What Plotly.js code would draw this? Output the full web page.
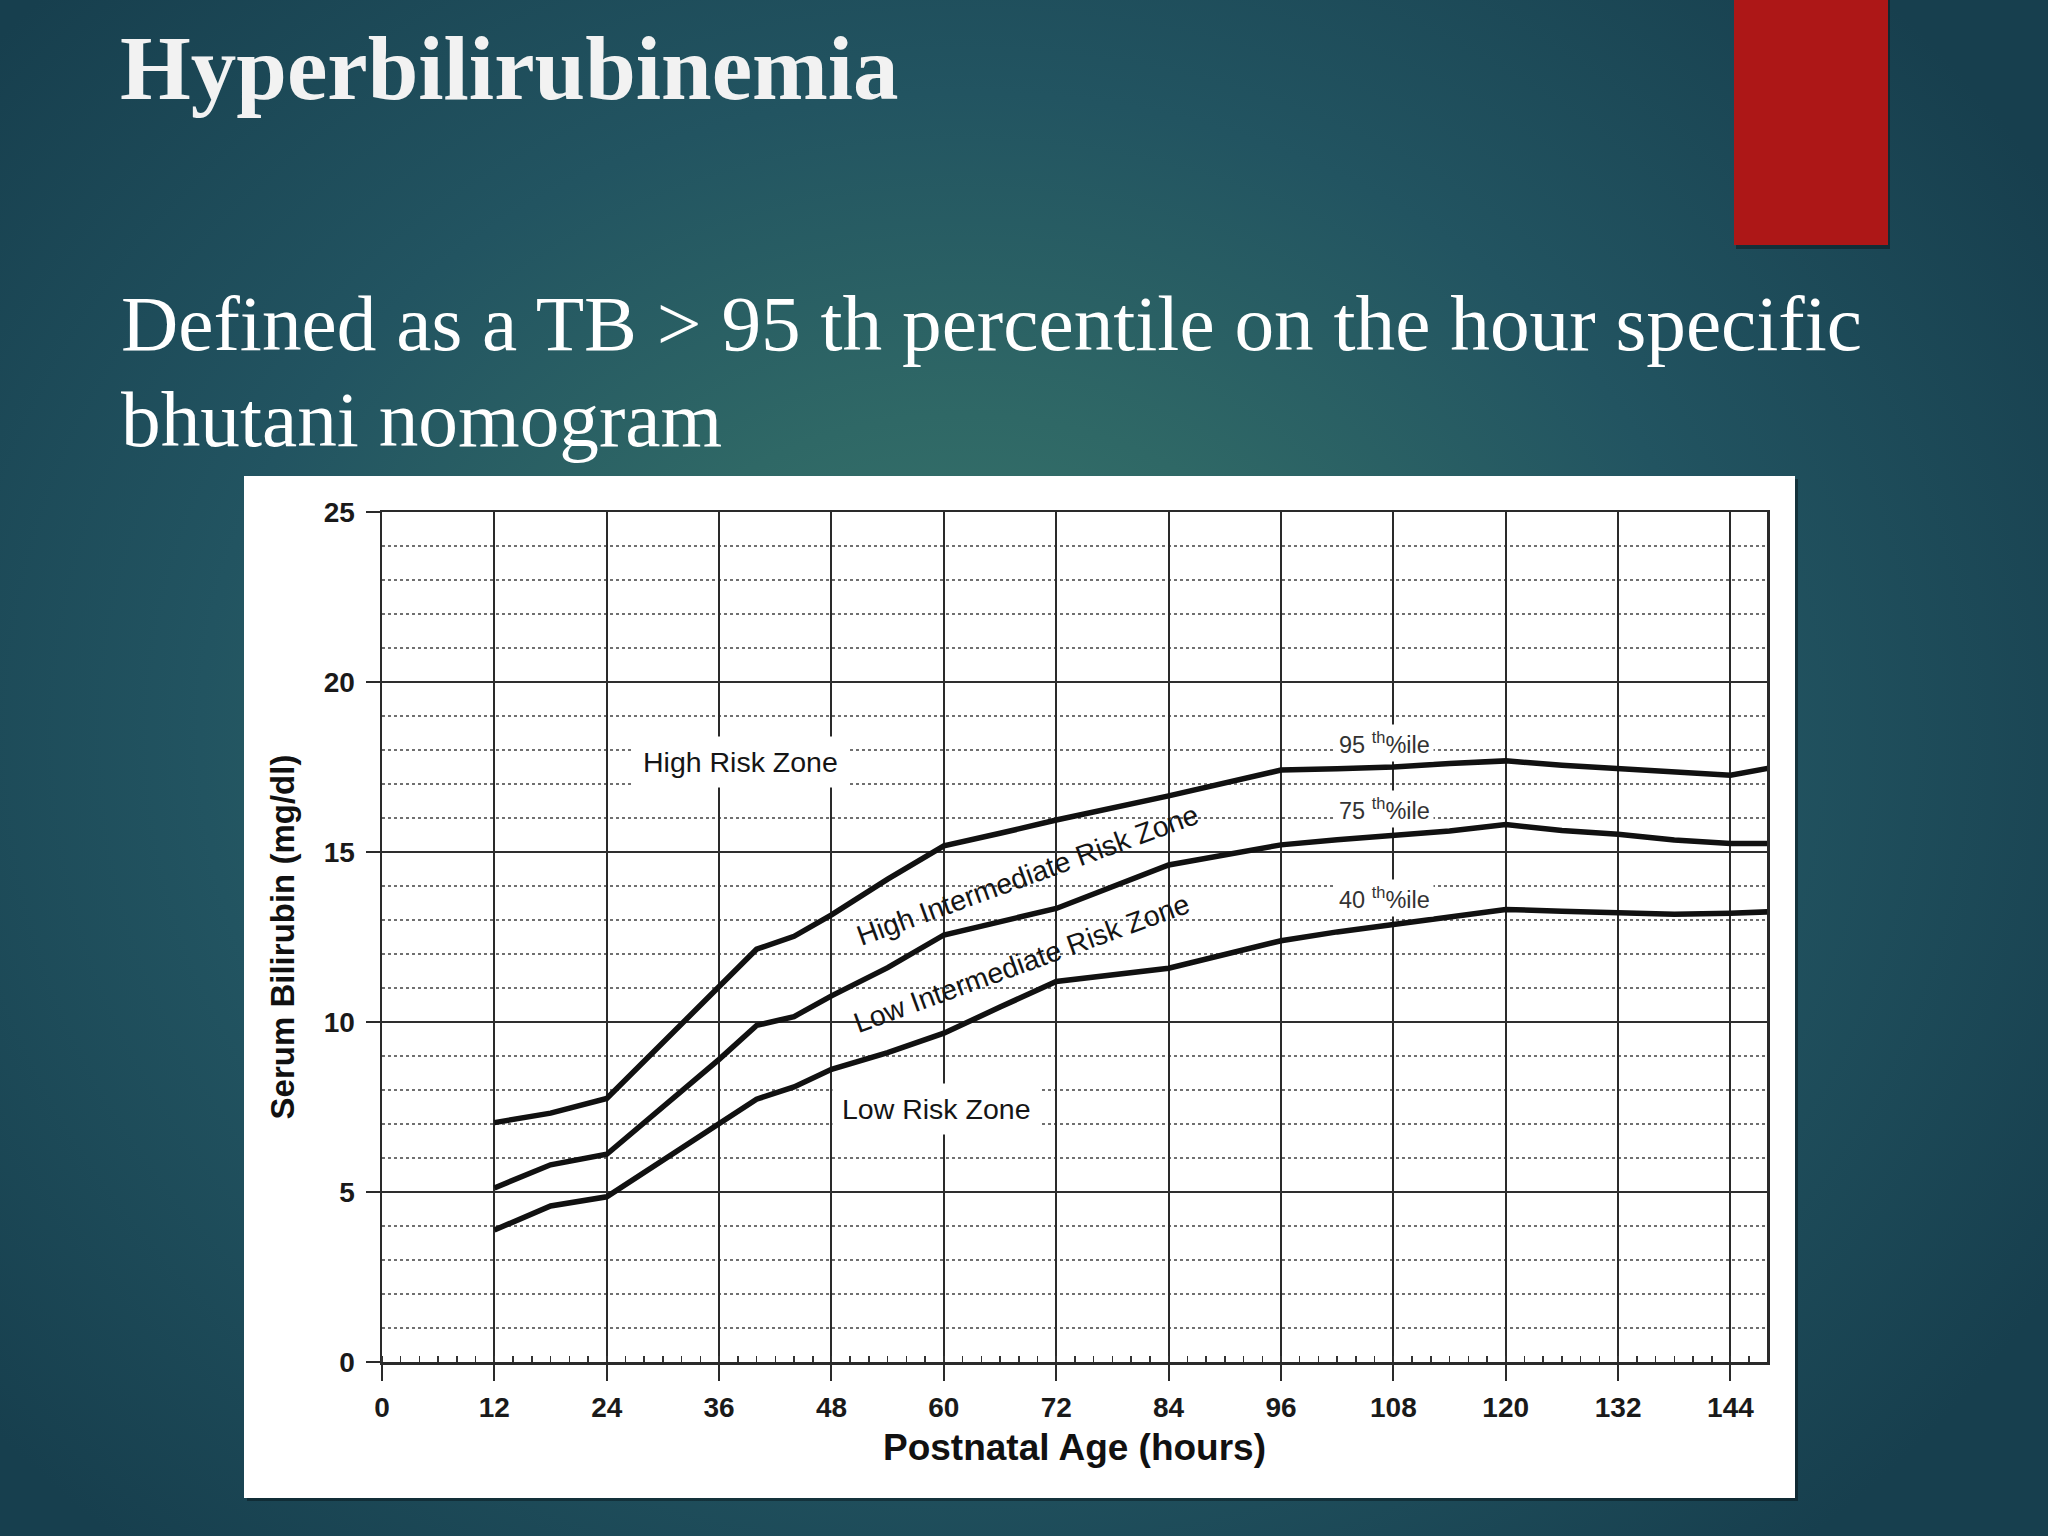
<!DOCTYPE html>
<html>
<head>
<meta charset="utf-8">
<script src="https://cdn.plot.ly/plotly-3.0.1.min.js"></script>
<style>
  html, body { margin: 0; padding: 0; width: 2048px; height: 1536px; overflow: hidden; }
  body {
    background: radial-gradient(ellipse 62% 70% at 47% 48%, #3b786d 0%, #2f6866 30%, #225461 60%, #173f4e 100%);
  }
  #chart { width: 2048px; height: 1536px; }
</style>
</head>
<body>
<div id="chart"></div>
<script>
// ---- data (Bhutani nomogram) ----
const hours = [12, 18, 24, 36, 40, 44, 48, 54, 60, 66, 72, 84, 96, 102, 108, 114, 120, 126, 132, 138, 144, 148];
const p95 = [7.04, 7.32, 7.75, 11.0, 12.14, 12.52, 13.15, 14.2, 15.18, 15.55, 15.94, 16.65, 17.41, 17.45, 17.5, 17.6, 17.68, 17.55, 17.46, 17.35, 17.26, 17.46];
const p75 = [5.12, 5.8, 6.11, 8.9, 9.9, 10.16, 10.77, 11.6, 12.56, 12.95, 13.34, 14.62, 15.21, 15.36, 15.5, 15.62, 15.81, 15.63, 15.52, 15.35, 15.25, 15.25];
const p40 = [3.88, 4.59, 4.86, 7.0, 7.73, 8.09, 8.61, 9.1, 9.67, 10.44, 11.19, 11.58, 12.39, 12.65, 12.88, 13.08, 13.31, 13.26, 13.23, 13.17, 13.2, 13.24];
const seriesNames = ["95th percentile", "75th percentile", "40th percentile"];
const xTicks = [0, 12, 24, 36, 48, 60, 72, 84, 96, 108, 120, 132, 144];
const yTicks = [0, 5, 10, 15, 20, 25];

const slideTitle = "Hyperbilirubinemia";
const subtitleLines = ["Defined as a TB > 95 th percentile on the hour specific", "bhutani nomogram"];
const xTitle = "Postnatal Age (hours)";
const yTitle = "Serum Bilirubin (mg/dl)";

// zone and percentile labels: [text, x (hours), y (mg/dl)]
const zoneLabels = [
  ["High Risk Zone", 38.3, 17.64],
  ["Low Risk Zone", 59.25, 7.44]
];
const slantLabels = [
  ["High Intermediate Risk Zone", 68.9, 14.32],
  ["Low Intermediate Risk Zone", 68.3, 11.74]
];
const pctLabels = [
  ["95 <sup>th</sup>%ile", 101.8, 18.22],
  ["75 <sup>th</sup>%ile", 101.8, 16.27],
  ["40 <sup>th</sup>%ile", 101.8, 13.66]
];

// ---- layout geometry (pixels on the 2048x1536 page) ----
const M = {l: 382, r: 281, t: 512, b: 174};
const PW = 2048 - M.l - M.r, PH = 1536 - M.t - M.b;
const px = v => (v - M.l) / PW;          // page x -> paper x
const py = v => (1536 - M.b - v) / PH;   // page y -> paper y

const SANS = "Liberation Sans, Arial, sans-serif";
const SERIF = "Liberation Serif, Times New Roman, serif";

const traces = [p95, p75, p40].map((vals, i) => ({
  type: "scatter", mode: "lines", name: seriesNames[i],
  x: hours, y: vals,
  line: {color: "#111111", width: 5.5},
  hoverinfo: "skip", showlegend: false
}));

const annotations = [];
subtitleLines.forEach((t, i) => {
  annotations.push({
    xref: "paper", yref: "paper", x: px(120), y: py(i === 0 ? 322.7 : 418.7),
    xanchor: "left", yanchor: "middle", showarrow: false, borderpad: 0,
    text: t, font: {family: SERIF, size: 79.3, color: "#ffffff"}
  });
});
zoneLabels.forEach(([t, x, y]) => annotations.push({
  xref: "x", yref: "y", x, y, xanchor: "center", yanchor: "middle", showarrow: false,
  text: t, bgcolor: "#ffffff", borderpad: 9,
  font: {family: SANS, size: 28.5, color: "#151515"}
}));
slantLabels.forEach(([t, x, y]) => annotations.push({
  xref: "x", yref: "y", x, y, xanchor: "center", yanchor: "middle", showarrow: false,
  text: t, textangle: -20,
  font: {family: SANS, size: 28.5, color: "#151515"}
}));
pctLabels.forEach(([t, x, y]) => annotations.push({
  xref: "x", yref: "y", x, y, xanchor: "left", yanchor: "middle", showarrow: false,
  text: t, bgcolor: "#ffffff", borderpad: 3,
  font: {family: SANS, size: 23.5, color: "#333333"}
}));

const shapes = [
  // white card behind the chart
  {type: "rect", xref: "paper", yref: "paper", layer: "below",
   x0: px(247), x1: px(1798), y0: py(1501), y1: py(479),
   fillcolor: "rgba(0,0,0,0.35)", line: {width: 0}},
  {type: "rect", xref: "paper", yref: "paper", layer: "below",
   x0: px(244), x1: px(1795), y0: py(1498), y1: py(476),
   fillcolor: "#ffffff", line: {width: 0}},
  // red accent bar
  {type: "rect", xref: "paper", yref: "paper", layer: "below",
   x0: px(1736), x1: px(1890), y0: py(249), y1: py(-5),
   fillcolor: "rgba(0,0,0,0.35)", line: {width: 0}},
  {type: "rect", xref: "paper", yref: "paper", layer: "below",
   x0: px(1734), x1: px(1888), y0: py(245), y1: py(-5),
   fillcolor: "#ad1717", line: {width: 0}}
];

const layout = {
  width: 2048, height: 1536,
  margin: M,
  paper_bgcolor: "rgba(0,0,0,0)",
  plot_bgcolor: "#ffffff",
  showlegend: false,
  title: {
    text: "<b>" + slideTitle + "</b>",
    xref: "container", yref: "container",
    x: 120 / 2048, xanchor: "left",
    y: 1 - 67.2 / 1536, yanchor: "middle",
    font: {family: SERIF, size: 91, color: "#f2f2f2"}
  },
  xaxis: {
    range: [0, 147.9], tickmode: "array", tickvals: xTicks,
    showgrid: true, gridcolor: "#2a2a2a", gridwidth: 2,
    zeroline: false,
    showline: true, linecolor: "#2a2a2a", linewidth: 2.5, mirror: true,
    ticks: "outside", ticklen: 16, tickwidth: 2, tickcolor: "#2a2a2a",
    ticklabelstandoff: 3,
    minor: {dtick: 2, ticks: "inside", ticklen: 6, tickwidth: 1.5, tickcolor: "#333333", showgrid: false},
    tickfont: {family: SANS, size: 28, color: "#1a1a1a", weight: "bold"},
    title: {text: xTitle, standoff: 12, font: {family: SANS, size: 37, color: "#111111", weight: "bold"}},
    fixedrange: true
  },
  yaxis: {
    range: [0, 25], tickmode: "array", tickvals: yTicks,
    showgrid: true, gridcolor: "#2e2e2e", gridwidth: 2.5,
    zeroline: false,
    showline: true, linecolor: "#2a2a2a", linewidth: 2.5, mirror: true,
    ticks: "outside", ticklen: 14, tickwidth: 2.5, tickcolor: "#2a2a2a",
    ticklabelstandoff: 5,
    minor: {dtick: 1, showgrid: true, gridcolor: "#707070", gridwidth: 2, griddash: "dot", ticks: ""},
    tickfont: {family: SANS, size: 28, color: "#1a1a1a", weight: "bold"},
    title: {text: yTitle, standoff: 19, font: {family: SANS, size: 33, color: "#111111", weight: "bold"}},
    fixedrange: true
  },
  annotations,
  shapes
};

Plotly.newPlot("chart", traces, layout, {displayModeBar: false, staticPlot: true});
</script>
</body>
</html>
